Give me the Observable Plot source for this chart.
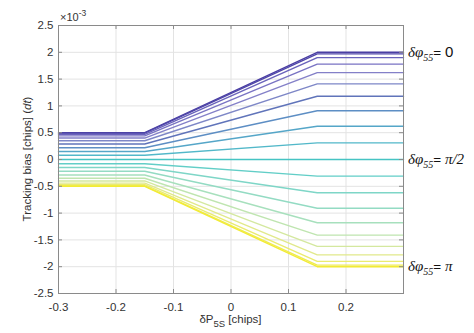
<!DOCTYPE html>
<html><head><meta charset="utf-8">
<script src="https://cdn.jsdelivr.net/npm/d3@7"></script>
<script src="https://cdn.jsdelivr.net/npm/@observablehq/plot@0.6"></script>
<style>
body{margin:0;background:#fff;}
svg{font-family:"Liberation Sans",Arial,sans-serif;}
</style>
</head><body><div id="chart"></div>
<script>
// phase steps (k of delta-phi = k*pi/20), 0 .. 20
const phaseSteps = [0,1,2,3,4,5,6,7,8,9,10,11,12,13,14,15,16,17,18,19,20];
// x knots of each piecewise line [chips]
const xKnots = [-0.3, -0.15, 0.15, 0.3];
// bias on the flat left part (x1e-3 chips)
const leftValues = [0.50, 0.49, 0.47, 0.44, 0.40, 0.35, 0.29, 0.22, 0.15, 0.08, 0.00,
                    -0.08, -0.15, -0.22, -0.29, -0.35, -0.40, -0.44, -0.47, -0.49, -0.50];
// bias on the flat right part (x1e-3 chips)
const rightValues = [2.00, 1.97, 1.90, 1.78, 1.62, 1.41, 1.18, 0.91, 0.62, 0.31, 0.00,
                     -0.31, -0.62, -0.91, -1.18, -1.41, -1.62, -1.78, -1.90, -1.97, -2.00];
const xTicks = [-0.3, -0.2, -0.1, 0, 0.1, 0.2];
const xTickMarks = [-0.3, -0.2, -0.1, 0, 0.1, 0.2, 0.3];
const yTicks = [-2.5, -2, -1.5, -1, -0.5, 0, 0.5, 1, 1.5, 2, 2.5];
const annotations = [{value: 2.0, label: "0"}, {value: 0.0, label: "π/2"}, {value: -2.0, label: "π"}];
const palette = ["#4a3ea3","#4f46a9","#6a63bb","#7973c3","#8480c8","#7e87c7","#6074ba","#5d8ec4",
                 "#55a6c8","#52b8c9","#46c4c3","#62cec7","#7ed6c7","#93dbc3","#a7e0bd","#bfe5b0",
                 "#d4e89f","#e1e98b","#eaeb70","#efec52","#f2eb34"];

const rows = [];
phaseSteps.forEach((k, i) => {
  xKnots.forEach((x, j) => {
    rows.push({phase: k, x, y: j < 2 ? leftValues[i] : rightValues[i]});
  });
});

const fmt = d => String(d);
const W = 474, H = 333, mL = 58, mR = 71, mT = 25, mB = 40;
const innerH = H - mT - mB, innerW = W - mL - mR;

const plot = Plot.plot({
  width: W, height: H,
  marginLeft: mL, marginRight: mR, marginTop: mT, marginBottom: mB,
  x: {domain: [-0.3, 0.3]},
  y: {domain: [-2.5, 2.5]},
  color: {type: "ordinal", domain: phaseSteps, range: palette},
  style: {fontFamily: '"Liberation Sans",Arial,sans-serif', fontSize: "11px", color: "#262626"},
  marks: [
    Plot.gridX(xTicks, {stroke: "#e3e3e3", strokeOpacity: 1}),
    Plot.gridY(yTicks, {stroke: "#e3e3e3", strokeOpacity: 1}),
    Plot.line(rows, {x: "x", y: "y", z: "phase", stroke: "phase", strokeWidth: 1.4}),
    Plot.frame({stroke: "#8a8a8a", strokeWidth: 1}),
    Plot.tickX(xTickMarks, {x: d => d, insetTop: innerH - 4, stroke: "#8a8a8a"}),
    Plot.tickX(xTickMarks, {x: d => d, insetBottom: innerH - 4, stroke: "#8a8a8a"}),
    Plot.tickY(yTicks, {y: d => d, insetRight: innerW - 4, stroke: "#8a8a8a"}),
    Plot.tickY(yTicks, {y: d => d, insetLeft: innerW - 4, stroke: "#8a8a8a"}),
    Plot.axisX(xTicks, {tickSize: 0, tickPadding: 9, tickFormat: fmt, label: null, fill: "#333", fontSize: 11.5}),
    Plot.axisY(yTicks, {tickSize: 0, tickPadding: 5, tickFormat: fmt, label: null, fill: "#333", fontSize: 11.5})
  ]
});
document.getElementById("chart").appendChild(plot);

const svg = d3.select(plot);
const ys = plot.scale("y"), xs = plot.scale("x");

// exponent label
const ex = svg.append("text").attr("x", mL + 2).attr("y", mT - 4).attr("text-anchor", "start")
  .attr("fill", "#333").attr("font-size", 11);
ex.append("tspan").text("×10");
ex.append("tspan").attr("dy", -5).attr("font-size", 8.5).text("-3");

// y label
const yl = svg.append("text").attr("transform", `translate(31,${(mT + H - mB) / 2}) rotate(-90)`)
  .attr("text-anchor", "middle").attr("fill", "#333").attr("font-size", 11.5);
yl.append("tspan").text("Tracking bias [chips] (");
yl.append("tspan").attr("font-style", "italic").text("dt");
yl.append("tspan").text(")");

// x label
const xl = svg.append("text").attr("x", xs.apply(0)).attr("y", H - 10)
  .attr("text-anchor", "middle").attr("fill", "#333").attr("font-size", 11.5);
xl.append("tspan").text("δP");
xl.append("tspan").attr("dy", 4).attr("font-size", 9.5).text("5S");
xl.append("tspan").attr("dy", -4).text(" [chips]");

// right annotations
annotations.forEach(a => {
  const t = svg.append("text").attr("x", W - mR + 5).attr("y", ys.apply(a.value) + 5)
    .attr("text-anchor", "start").attr("fill", "#111").attr("font-size", 15);
  t.append("tspan").attr("font-family", '"Liberation Serif",serif').attr("font-style", "italic").text("δφ");
  t.append("tspan").attr("dy", 4).attr("font-size", 10).attr("font-family", '"Liberation Serif",serif').attr("font-style", "italic").text("55");
  t.append("tspan").attr("dy", -4).attr("font-size", 13.5).text("= ");
  const isPi = a.label !== "0";
  t.append("tspan").attr("font-family", isPi ? '"Liberation Serif",serif' : null)
    .attr("font-style", isPi ? "italic" : null).text(a.label);
});
</script>
</body></html>
